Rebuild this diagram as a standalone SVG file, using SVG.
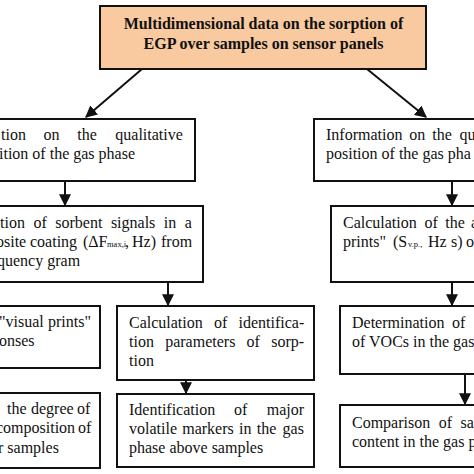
<svg xmlns="http://www.w3.org/2000/svg" width="474" height="474" viewBox="0 0 474 474">
<style>
.box{fill:#fff;stroke:#111;stroke-width:2}
.top{fill:#F9C9A0;stroke:#111;stroke-width:2}
text{font-family:"Liberation Serif","Times New Roman",serif;font-size:16px;fill:#111}
.b{font-weight:bold}
.sub{font-size:8.5px}
.con{stroke:#111;stroke-width:2;fill:none;marker-end:url(#ah)}
</style>
<defs>
<marker id="ah" viewBox="0 0 10 10" refX="9" refY="5" markerWidth="6" markerHeight="6" orient="auto" markerUnits="strokeWidth">
<path d="M0,0 L10,5 L0,10 z" fill="#111"/>
</marker>
</defs>
<rect width="474" height="474" fill="#fff"/>
<g id="connectors">
<line class="con" x1="142" y1="69" x2="86" y2="117"/>
<line class="con" x1="367" y1="69" x2="426" y2="117"/>
<line class="con" x1="65" y1="181" x2="65" y2="205"/>
<line class="con" x1="452" y1="181" x2="452" y2="205"/>
<line class="con" x1="168" y1="282" x2="168" y2="305"/>
<line class="con" x1="186" y1="380" x2="186" y2="393"/>
<line class="con" x1="452" y1="282" x2="452" y2="305"/>
<line class="con" x1="465" y1="374" x2="465" y2="404"/>
</g>
<g id="n-top">
<rect class="top" x="100" y="6" width="326" height="63"/>
<text class="b" x="263.5" y="29" text-anchor="middle">Multidimensional data on the sorption of</text>
<text class="b" x="263.5" y="49" text-anchor="middle">EGP over samples on sensor panels</text>
</g>
<g id="n-left1">
<rect class="box" x="-10" y="119" width="205" height="62"/>
<text y="140"><tspan x="1">tion</tspan><tspan x="43.5">on</tspan><tspan x="77.2">the</tspan><tspan x="115.3">qualitative</tspan></text>
<text x="135" y="159" text-anchor="end">ition of the gas phase</text>
</g>
<g id="n-left2">
<rect class="box" x="-10" y="206" width="213" height="76"/>
<text y="228"><tspan x="0">tion</tspan><tspan x="33.4">of</tspan><tspan x="55.3">sorbent</tspan><tspan x="110.9">signals</tspan><tspan x="163.8">in</tspan><tspan x="184.8">a</tspan></text>
<text y="247"><tspan x="-4">osite</tspan><tspan x="30">coating</tspan><tspan x="83">(ΔF</tspan><tspan class="sub" x="107">max,i</tspan><tspan x="125">,</tspan><tspan x="132">Hz)</tspan><tspan x="161">from</tspan></text>
<text x="-3" y="266">quency gram</text>
</g>
<g id="n-left3">
<rect class="box" x="-10" y="306" width="110" height="62"/>
<text y="327"><tspan x="-1">"visual</tspan><tspan x="48">prints"</tspan></text>
<text x="-1" y="346">onses</text>
</g>
<g id="n-left4">
<rect class="box" x="-10" y="393" width="110" height="75"/>
<text y="414"><tspan x="7">the</tspan><tspan x="31">degree</tspan><tspan x="77">of</tspan></text>
<text y="433"><tspan x="-4">composition</tspan><tspan x="78">of</tspan></text>
<text x="-2" y="453">r samples</text>
</g>
<g id="n-mid1">
<rect class="box" x="117" y="306" width="197" height="74"/>
<text y="328"><tspan x="129">Calculation</tspan><tspan x="214.1">of</tspan><tspan x="238.5">identifica-</tspan></text>
<text y="347"><tspan x="129">tion</tspan><tspan x="165.2">parameters</tspan><tspan x="246.6">of</tspan><tspan x="271.3">sorp-</tspan></text>
<text x="129" y="366">tion</text>
</g>
<g id="n-mid2">
<rect class="box" x="117" y="394" width="197" height="73"/>
<text y="415"><tspan x="129">Identification</tspan><tspan x="234.1">of</tspan><tspan x="266.8">major</tspan></text>
<text y="434"><tspan x="129">volatile</tspan><tspan x="182.2">markers</tspan><tspan x="239">in</tspan><tspan x="256.8">the</tspan><tspan x="282.6">gas</tspan></text>
<text x="129" y="453">phase above samples</text>
</g>
<g id="n-right1">
<rect class="box" x="314" y="119" width="170" height="62"/>
<text y="140"><tspan x="326">Information</tspan><tspan x="409.2">on</tspan><tspan x="432.2">the</tspan><tspan x="459.6">qu</tspan></text>
<text x="326" y="159">position of the gas pha</text>
</g>
<g id="n-right2">
<rect class="box" x="331" y="206" width="153" height="76"/>
<text y="228"><tspan x="343">Calculation</tspan><tspan x="424.5">of</tspan><tspan x="445.3">the</tspan><tspan x="471">a</tspan></text>
<text y="247"><tspan x="343">prints"</tspan><tspan x="393">(S</tspan><tspan class="sub" x="408">v.p.,</tspan><tspan x="428">Hz</tspan><tspan x="451">s)</tspan><tspan x="466">of</tspan></text>
</g>
<g id="n-right3">
<rect class="box" x="340" y="306" width="144" height="68"/>
<text y="328"><tspan x="352">Determination</tspan><tspan x="452">of</tspan></text>
<text x="352" y="347">of VOCs in the gas</text>
</g>
<g id="n-right4">
<rect class="box" x="340" y="405" width="144" height="62"/>
<text y="428"><tspan x="352">Comparison</tspan><tspan x="438.7">of</tspan><tspan x="460.6">sa</tspan></text>
<text x="352" y="447">content in the gas p</text>
</g>
</svg>
